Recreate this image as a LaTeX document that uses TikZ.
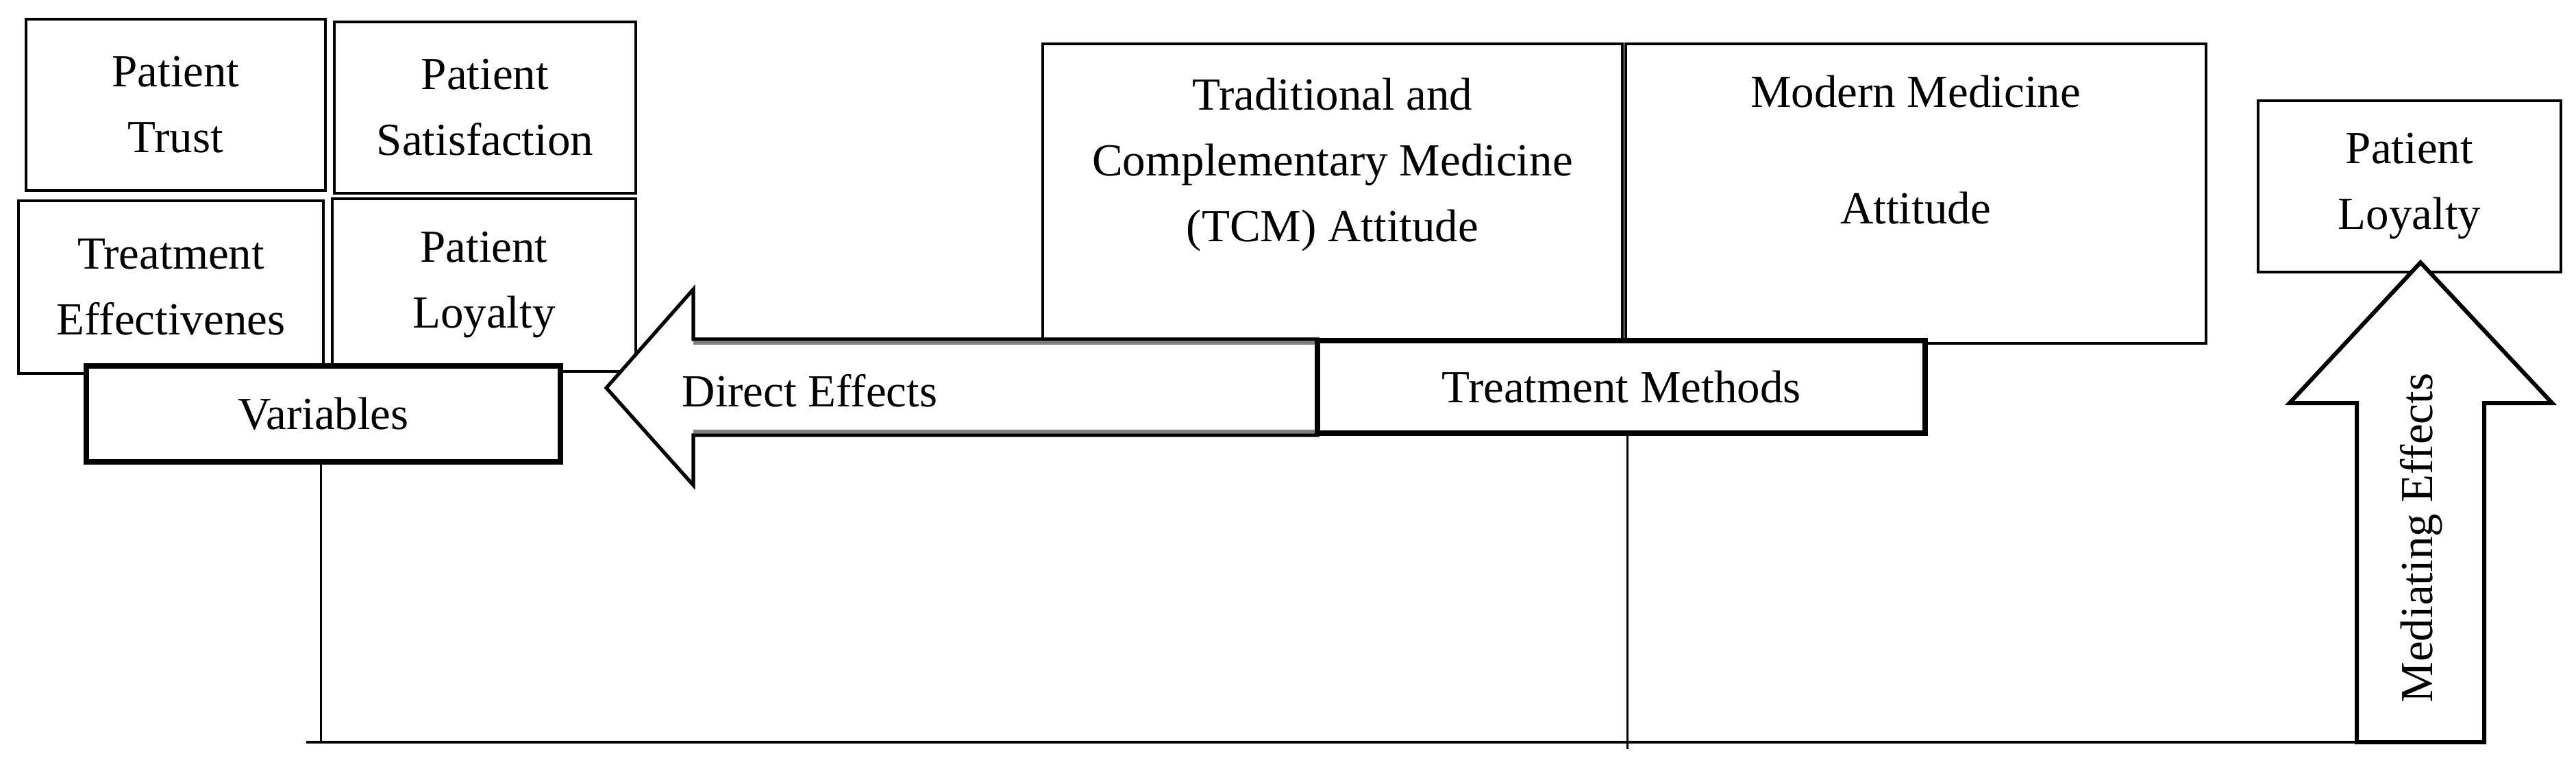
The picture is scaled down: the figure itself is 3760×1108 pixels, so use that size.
\documentclass[tikz,border=0pt]{standalone}
\usepackage{fontspec}
\setmainfont{Liberation Serif}
\usetikzlibrary{positioning}

\newcommand{\lbl}{\fontsize{16.75}{24}\selectfont}
\tikzset{
	box/.style={draw, line width=0.9pt, fill=white, inner sep=0pt, align=center, font=\lbl},
	thickbox/.style={box, line width=1.8pt},
	blockarrow/.style={draw, line width=1.3pt, fill=white, line join=miter},
	txt/.style={inner sep=0pt, align=center, font=\lbl},
	axis/.style={line width=0.75pt},
}

\begin{document}
\begin{tikzpicture}[x=0.25pt, y=-0.25pt]
	\useasboundingbox (0,0) rectangle (3760,1108);
	% variables
	\node[box, minimum width=109.25pt, minimum height=62.5pt] (0) at (256.5,153) {Patient\\Trust};
	\node[box, minimum width=110pt, minimum height=62.5pt] (1) at (708,157) {Patient\\Satisfaction};
	\node[box, minimum width=111.25pt, minimum height=63pt] (2) at (249.5,419) {Treatment\\Effectivenes};
	\node[box, minimum width=110.75pt, minimum height=63pt] (3) at (706.5,416) {Patient\\Loyalty};
	% treatment methods
	\node[box, minimum width=211.5pt, minimum height=108.25pt] (5) at (1945,280.5) {};
	\node[txt] (6) at (1945,240) {Traditional and\\Complementary Medicine\\(TCM) Attitude};
	\node[box, minimum width=211.75pt, minimum height=109.25pt] (7) at (2796.5,282.5) {};
	\node[txt] (8) at (2796,219) {Modern Medicine\\[18.5pt]Attitude};
	% direct effects
	\draw[blockarrow] (1923,495) -- (1012,495) -- (1012,422) -- (885,566) -- (1012,708) -- (1012,635) -- (1923,635) -- cycle;
	\draw[gray, line width=1.2pt] (1012,500.5) -- (1923,500.5);
	\draw[gray, line width=1.2pt] (1012,629.5) -- (1923,629.5);
	\node[txt] (10) at (1182,570) {Direct Effects};
	\node[thickbox, minimum width=173pt, minimum height=35pt] (4) at (472,604) {Variables};
	\node[thickbox, minimum width=221.75pt, minimum height=33.75pt] (9) at (2366.5,564.5) {Treatment Methods};
	% lines
	\coordinate (13) at (468,1083);
	\coordinate (14) at (447,1083);
	\coordinate (15) at (3440,1083);
	\coordinate (16) at (2375,1093);
	\draw[axis] (4.south -| 13) -- (13);
	\draw[axis] (9.south -| 16) -- (16);
	\draw[line width=1pt] (14) -- (15);
	% mediating effects
	\node[box, line width=1pt, minimum width=110.5pt, minimum height=62.5pt] (11) at (3517,272) {Patient\\Loyalty};
	\draw[blockarrow, line width=1.5pt] (15) -- (3440,588) -- (3342,588) -- (3533,383) -- (3725,588) -- (3626,588) -- (3626,1083) -- cycle;
	\node[txt, rotate=90] (12) at (3534,785) {Mediating Effects};
\end{tikzpicture}
\end{document}
